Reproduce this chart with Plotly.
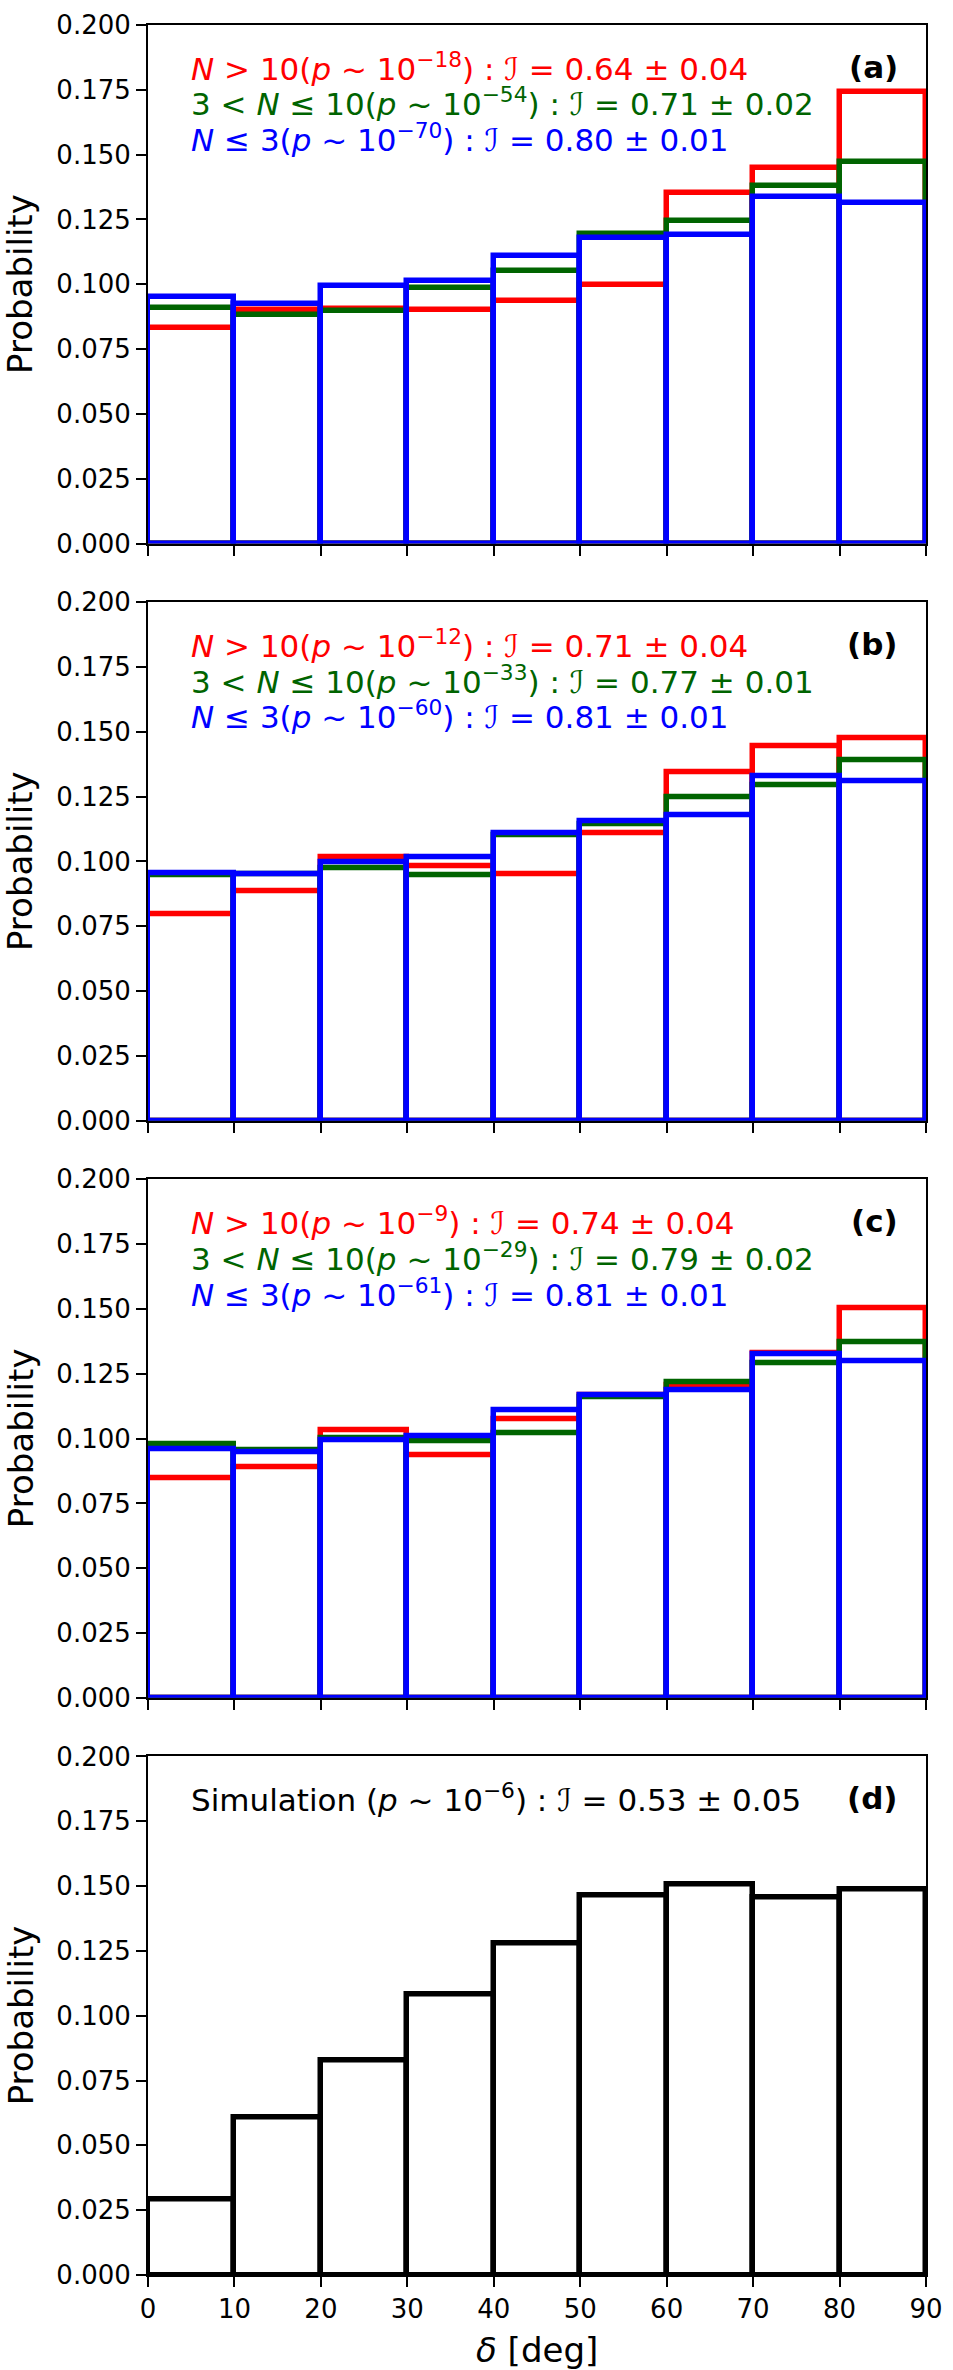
import plotly.graph_objects as go

# ---------------- data ----------------
bin_edges = [0, 10, 20, 30, 40, 50, 60, 70, 80, 90]

a_red   = [0.0833, 0.0902, 0.0903, 0.0902, 0.0937, 0.0996, 0.1351, 0.1448, 0.1742]
a_green = [0.0910, 0.0881, 0.0897, 0.0985, 0.1051, 0.1194, 0.1244, 0.1379, 0.1473]
a_blue  = [0.0949, 0.0925, 0.0994, 0.1013, 0.1110, 0.1179, 0.1191, 0.1335, 0.1314]

b_red   = [0.0795, 0.0885, 0.1017, 0.0980, 0.0951, 0.1108, 0.1343, 0.1445, 0.1475]
b_green = [0.0946, 0.0950, 0.0973, 0.0946, 0.1100, 0.1145, 0.1247, 0.1296, 0.1391]
b_blue  = [0.0954, 0.0951, 0.0998, 0.1017, 0.1108, 0.1156, 0.1177, 0.1328, 0.1310]

c_red   = [0.0845, 0.0891, 0.1030, 0.0935, 0.1076, 0.1167, 0.1205, 0.1328, 0.1503]
c_green = [0.0976, 0.0955, 0.1002, 0.0988, 0.1021, 0.1159, 0.1218, 0.1291, 0.1373]
c_blue  = [0.0958, 0.0946, 0.0993, 0.1010, 0.1108, 0.1167, 0.1186, 0.1325, 0.1299]

d_sim   = [0.0291, 0.0608, 0.0826, 0.1082, 0.1278, 0.1465, 0.1507, 0.1456, 0.1486]

y_ticks = [0.000, 0.025, 0.050, 0.075, 0.100, 0.125, 0.150, 0.175, 0.200]
x_ticks = [0, 10, 20, 30, 40, 50, 60, 70, 80, 90]

panel_labels = ["(a)", "(b)", "(c)", "(d)"]
legend_texts = [
    ["<i>N</i> &gt; 10(<i>p</i> ~ 10<sup>−18</sup>) : <i>ℐ</i> = 0.64 ± 0.04",
     "3 &lt; <i>N</i> ≤ 10(<i>p</i> ~ 10<sup>−54</sup>) : <i>ℐ</i> = 0.71 ± 0.02",
     "<i>N</i> ≤ 3(<i>p</i> ~ 10<sup>−70</sup>) : <i>ℐ</i> = 0.80 ± 0.01"],
    ["<i>N</i> &gt; 10(<i>p</i> ~ 10<sup>−12</sup>) : <i>ℐ</i> = 0.71 ± 0.04",
     "3 &lt; <i>N</i> ≤ 10(<i>p</i> ~ 10<sup>−33</sup>) : <i>ℐ</i> = 0.77 ± 0.01",
     "<i>N</i> ≤ 3(<i>p</i> ~ 10<sup>−60</sup>) : <i>ℐ</i> = 0.81 ± 0.01"],
    ["<i>N</i> &gt; 10(<i>p</i> ~ 10<sup>−9</sup>) : <i>ℐ</i> = 0.74 ± 0.04",
     "3 &lt; <i>N</i> ≤ 10(<i>p</i> ~ 10<sup>−29</sup>) : <i>ℐ</i> = 0.79 ± 0.02",
     "<i>N</i> ≤ 3(<i>p</i> ~ 10<sup>−61</sup>) : <i>ℐ</i> = 0.81 ± 0.01"],
    ["Simulation (<i>p</i> ~ 10<sup>−6</sup>) : <i>ℐ</i> = 0.53 ± 0.05"],
]

RED, GREEN, BLUE, BLACK = "#ff0000", "#006400", "#0000ff", "#000000"

panels = [
    [(a_red, RED), (a_green, GREEN), (a_blue, BLUE)],
    [(b_red, RED), (b_green, GREEN), (b_blue, BLUE)],
    [(c_red, RED), (c_green, GREEN), (c_blue, BLUE)],
    [(d_sim, BLACK)],
]
text_colors = [[RED, GREEN, BLUE], [RED, GREEN, BLUE], [RED, GREEN, BLUE], [BLACK]]

# ---------------- layout geometry ----------------
W, H = 953, 2370
L, R, T, B = 148, 17, 10, 95
plot_h = H - T - B
panel_px = 522
gap_px = 59

centers = [(bin_edges[i] + bin_edges[i + 1]) / 2 for i in range(len(bin_edges) - 1)]
widths = [bin_edges[i + 1] - bin_edges[i] for i in range(len(bin_edges) - 1)]

FONT = "DejaVu Sans"
fig = go.Figure()
annotations = []

for p, series in enumerate(panels):
    xa = "x" if p == 0 else f"x{p+1}"
    ya = "y" if p == 0 else f"y{p+1}"
    for vals, col in series:
        fig.add_trace(go.Bar(
            x=centers, y=vals, width=widths, xaxis=xa, yaxis=ya,
            marker=dict(color="rgba(0,0,0,0)", line=dict(color=col, width=5.5)),
            showlegend=False, cliponaxis=False, hoverinfo="skip",
        ))
    top_px = T + p * (panel_px + gap_px)
    bot_px = top_px + panel_px
    dom = [(H - B - bot_px) / plot_h, (H - B - top_px) / plot_h]
    axis_common = dict(showline=True, linecolor="black", linewidth=2, mirror=True,
                       ticks="outside", ticklen=10, tickwidth=2, tickcolor="black",
                       showgrid=False, zeroline=False, layer="below traces",
                       tickfont=dict(family=FONT, size=26, color="black"))
    fig.update_layout(**{
        ("xaxis" if p == 0 else f"xaxis{p+1}"): dict(
            axis_common, range=[bin_edges[0], bin_edges[-1]], tickvals=x_ticks,
            showticklabels=(p == 3), anchor=ya, domain=[0, 1]),
        ("yaxis" if p == 0 else f"yaxis{p+1}"): dict(
            axis_common, range=[0, 0.2], tickvals=y_ticks, tickformat=".3f",
            anchor=xa, domain=dom),
    })
    xd = f"{xa} domain"
    yd = f"{ya} domain"
    line_offsets = [42, 78, 114]
    for k, txt in enumerate(legend_texts[p]):
        annotations.append(dict(
            x=(190 - L) / (W - L - R), y=1 - line_offsets[k] / panel_px,
            xref=xd, yref=yd, xanchor="left", yanchor="middle",
            text=txt, showarrow=False,
            font=dict(family=FONT, size=31, color=text_colors[p][k])))
    annotations.append(dict(
        x=(910 - L) / (W - L - R), y=1 - 42 / panel_px,
        xref=xd, yref=yd, xanchor="right", yanchor="middle",
        text=f"<b>{panel_labels[p]}</b>", showarrow=False,
        font=dict(family=FONT, size=31, color="black")))
    annotations.append(dict(
        x=(19 - L) / (W - L - R), y=0.5, xref="paper", yref=yd,
        xanchor="center", yanchor="middle", textangle=-90,
        text="Probability", showarrow=False,
        font=dict(family=FONT, size=34, color="black")))

annotations.append(dict(
    x=(542 - L) / (W - L - R), y=(H - B - 2350) / plot_h, xref="paper", yref="paper",
    xanchor="center", yanchor="middle", text="<i>δ</i> [deg]", showarrow=False,
    font=dict(family=FONT, size=34, color="black")))

fig.update_layout(
    width=W, height=H, margin=dict(l=L, r=R, t=T, b=B),
    barmode="overlay", bargap=0,
    plot_bgcolor="white", paper_bgcolor="white",
    annotations=annotations,
)

fig.write_html("out.html")
